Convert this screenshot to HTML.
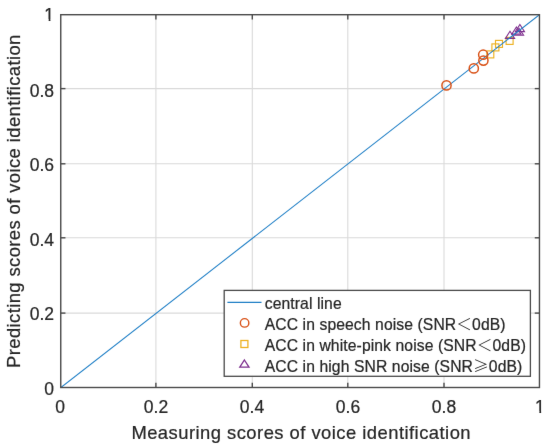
<!DOCTYPE html>
<html><head><meta charset="utf-8"><style>
html,body{margin:0;padding:0;background:#fff;}
svg{display:block;}
text{font-family:"Liberation Sans",Arial,sans-serif;fill:#262626;stroke:#262626;stroke-width:0.22px;}
.t{font-size:17.5px;}
.lab{font-size:18.4px;letter-spacing:0.467px;}
.leg{font-size:15.7px;letter-spacing:0.1px;}
.sym{font-family:"Noto Sans CJK SC","Liberation Sans",sans-serif;font-weight:300;stroke:none;}
</style></head><body>
<svg width="550" height="446" viewBox="0 0 550 446">
<filter id="bl" color-interpolation-filters="sRGB" x="0" y="0" width="550" height="446" filterUnits="userSpaceOnUse"><feConvolveMatrix order="3" kernelMatrix="0.00276 0.04704 0.00276 0.04704 0.80077 0.04704 0.00276 0.04704 0.00276" edgeMode="duplicate"/></filter>
<g filter="url(#bl)">
<rect width="550" height="446" fill="#fff"/>
<defs><clipPath id="pa"><rect x="60.75" y="14.7" width="478.70" height="372.80"/></clipPath></defs>
<g clip-path="url(#pa)"><line x1="155.90" y1="14.70" x2="155.90" y2="387.50" stroke="#dadada" stroke-width="1.1"/>
<line x1="60.75" y1="313.10" x2="539.45" y2="313.10" stroke="#dadada" stroke-width="1.1"/>
<line x1="252.30" y1="14.70" x2="252.30" y2="387.50" stroke="#dadada" stroke-width="1.1"/>
<line x1="60.75" y1="237.80" x2="539.45" y2="237.80" stroke="#dadada" stroke-width="1.1"/>
<line x1="347.80" y1="14.70" x2="347.80" y2="387.50" stroke="#dadada" stroke-width="1.1"/>
<line x1="60.75" y1="163.80" x2="539.45" y2="163.80" stroke="#dadada" stroke-width="1.1"/>
<line x1="444.00" y1="14.70" x2="444.00" y2="387.50" stroke="#dadada" stroke-width="1.1"/>
<line x1="60.75" y1="88.60" x2="539.45" y2="88.60" stroke="#dadada" stroke-width="1.1"/>
<rect x="486.80" y="50.90" width="7.00" height="7.00" fill="none" stroke="#edb120" stroke-width="1.15"/>
<rect x="491.90" y="43.90" width="7.00" height="7.00" fill="none" stroke="#edb120" stroke-width="1.15"/>
<rect x="495.50" y="40.40" width="7.00" height="7.00" fill="none" stroke="#edb120" stroke-width="1.15"/>
<rect x="506.10" y="37.40" width="7.00" height="7.00" fill="none" stroke="#edb120" stroke-width="1.15"/>
<polygon points="510.00,31.30 514.60,38.40 505.40,38.40" fill="none" stroke="#7e2f8e" stroke-width="1.1" stroke-linejoin="miter"/>
<polygon points="516.40,27.00 521.00,34.10 511.80,34.10" fill="none" stroke="#7e2f8e" stroke-width="1.1" stroke-linejoin="miter"/>
<polygon points="519.00,28.20 523.60,35.30 514.40,35.30" fill="none" stroke="#7e2f8e" stroke-width="1.1" stroke-linejoin="miter"/>
<polygon points="519.90,24.50 524.50,31.60 515.30,31.60" fill="none" stroke="#7e2f8e" stroke-width="1.1" stroke-linejoin="miter"/>
<line x1="60.05" y1="388.20" x2="539.95" y2="14.30" stroke="#1f7fc6" stroke-width="1.05"/>
<circle cx="446.50" cy="85.40" r="4.6" fill="none" stroke="#d95319" stroke-width="1.5"/>
<circle cx="473.80" cy="68.40" r="4.6" fill="none" stroke="#d95319" stroke-width="1.5"/>
<circle cx="483.40" cy="60.60" r="4.6" fill="none" stroke="#d95319" stroke-width="1.5"/>
<circle cx="483.20" cy="54.70" r="4.6" fill="none" stroke="#d95319" stroke-width="1.5"/></g>
<rect x="60.75" y="14.70" width="478.70" height="372.80" fill="none" stroke="#4a4a4a" stroke-width="1.4"/>
<line x1="155.90" y1="387.50" x2="155.90" y2="382.80" stroke="#4a4a4a" stroke-width="1.4"/>
<line x1="155.90" y1="14.70" x2="155.90" y2="19.40" stroke="#4a4a4a" stroke-width="1.4"/>
<line x1="60.75" y1="313.10" x2="65.45" y2="313.10" stroke="#4a4a4a" stroke-width="1.4"/>
<line x1="539.45" y1="313.10" x2="534.75" y2="313.10" stroke="#4a4a4a" stroke-width="1.4"/>
<line x1="252.30" y1="387.50" x2="252.30" y2="382.80" stroke="#4a4a4a" stroke-width="1.4"/>
<line x1="252.30" y1="14.70" x2="252.30" y2="19.40" stroke="#4a4a4a" stroke-width="1.4"/>
<line x1="60.75" y1="237.80" x2="65.45" y2="237.80" stroke="#4a4a4a" stroke-width="1.4"/>
<line x1="539.45" y1="237.80" x2="534.75" y2="237.80" stroke="#4a4a4a" stroke-width="1.4"/>
<line x1="347.80" y1="387.50" x2="347.80" y2="382.80" stroke="#4a4a4a" stroke-width="1.4"/>
<line x1="347.80" y1="14.70" x2="347.80" y2="19.40" stroke="#4a4a4a" stroke-width="1.4"/>
<line x1="60.75" y1="163.80" x2="65.45" y2="163.80" stroke="#4a4a4a" stroke-width="1.4"/>
<line x1="539.45" y1="163.80" x2="534.75" y2="163.80" stroke="#4a4a4a" stroke-width="1.4"/>
<line x1="444.00" y1="387.50" x2="444.00" y2="382.80" stroke="#4a4a4a" stroke-width="1.4"/>
<line x1="444.00" y1="14.70" x2="444.00" y2="19.40" stroke="#4a4a4a" stroke-width="1.4"/>
<line x1="60.75" y1="88.60" x2="65.45" y2="88.60" stroke="#4a4a4a" stroke-width="1.4"/>
<line x1="539.45" y1="88.60" x2="534.75" y2="88.60" stroke="#4a4a4a" stroke-width="1.4"/>
<text x="60.05" y="413" text-anchor="middle" class="t">0</text>
<text x="54.1" y="395" text-anchor="end" class="t">0</text>
<text x="156.03" y="413" text-anchor="middle" class="t">0.2</text>
<text x="54.1" y="320" text-anchor="end" class="t">0.2</text>
<text x="252.01" y="413" text-anchor="middle" class="t">0.4</text>
<text x="54.1" y="246" text-anchor="end" class="t">0.4</text>
<text x="347.99" y="413" text-anchor="middle" class="t">0.6</text>
<text x="54.1" y="171" text-anchor="end" class="t">0.6</text>
<text x="443.97" y="413" text-anchor="middle" class="t">0.8</text>
<text x="54.1" y="97" text-anchor="end" class="t">0.8</text>
<text x="539.95" y="413" text-anchor="middle" class="t">1</text>
<text x="54.1" y="21" text-anchor="end" class="t">1</text>
<rect x="45" y="19" width="3.65" height="4" fill="#fff"/><rect x="50.43" y="19" width="3.57" height="4" fill="#fff"/>
<rect x="536" y="411" width="3.36" height="4" fill="#fff"/><rect x="541.15" y="411" width="3.85" height="4" fill="#fff"/>
<text x="301.23" y="439" text-anchor="middle" class="lab">Measuring scores of voice identification</text>
<text transform="translate(20.45,201.11) rotate(-90)" x="0" y="0" text-anchor="middle" class="lab" style="font-size:18.4px;letter-spacing:0.41px">Predicting scores of voice identification</text>
<rect x="224.2" y="290.4" width="306.20" height="85.90" fill="#fff" stroke="#4a4a4a" stroke-width="1.3"/>
<line x1="227.4" y1="302.4" x2="261.5" y2="302.4" stroke="#1f7fc6" stroke-width="1.1"/>
<circle cx="244.60" cy="322.90" r="4.25" fill="none" stroke="#d95319" stroke-width="1.4"/>
<rect x="240.90" y="340.50" width="7.00" height="7.00" fill="none" stroke="#edb120" stroke-width="1.3"/>
<polygon points="244.40,360.00 249.00,367.20 239.80,367.20" fill="none" stroke="#7e2f8e" stroke-width="1.3" stroke-linejoin="miter"/>
<text x="264.7" y="309" class="leg">central line</text>
<text x="264.7" y="330" class="leg">ACC in speech noise (SNR<tspan class="sym">＜</tspan>0dB)</text>
<text x="264.7" y="351" class="leg">ACC in white-pink noise (SNR<tspan class="sym">＜</tspan>0dB)</text>
<text x="264.7" y="372" class="leg">ACC in high SNR noise (SNR<tspan class="sym">≥</tspan>0dB)</text>
</g>
</svg>
</body></html>
